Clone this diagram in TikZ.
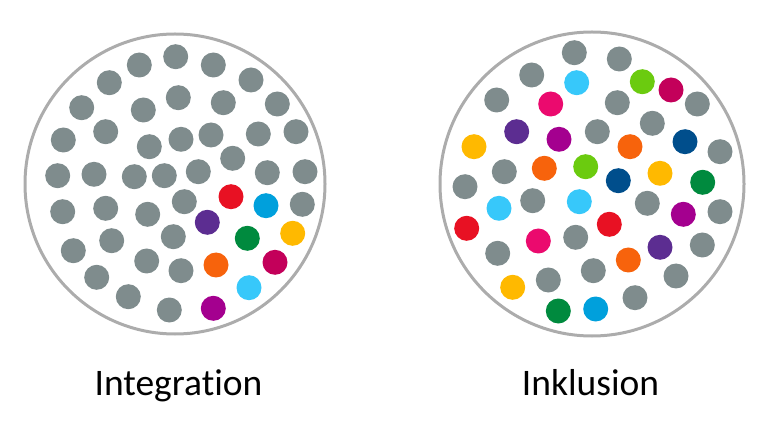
\documentclass[tikz,border=0pt]{standalone}
\usepackage{fontspec}
\setmainfont[Ligatures=NoCommon]{Carlito}
\definecolor{dgray}{RGB}{127,140,141}
\definecolor{ring}{RGB}{172,172,172}
\definecolor{cred}{RGB}{232,17,35}
\definecolor{cblue}{RGB}{0,160,220}
\definecolor{cpurple}{RGB}{92,45,145}
\definecolor{cgreen}{RGB}{0,138,62}
\definecolor{cyellow}{RGB}{255,185,0}
\definecolor{corange}{RGB}{247,99,12}
\definecolor{cmagenta}{RGB}{195,0,90}
\definecolor{clight}{RGB}{55,200,250}
\definecolor{cviolet}{RGB}{164,0,143}
\definecolor{cpink}{RGB}{235,10,110}
\definecolor{clime}{RGB}{107,203,15}
\definecolor{cnavy}{RGB}{0,78,140}
\tikzset{
  dot/.style={circle,fill=#1,draw=none,minimum size=25pt,inner sep=0pt},
  ringstyle/.style={circle,draw=ring,line width=3pt,minimum size=300pt,inner sep=0pt},
  lbl/.style={font=\fontsize{37.5}{42}\selectfont,anchor=base}
}
\begin{document}
\begin{tikzpicture}[x=1pt,y=-1pt]
\useasboundingbox (0,0) rectangle (768,430);
\node[ringstyle] (ringL) at (175,184) {};
\node[ringstyle,minimum size=304pt] (ringR) at (592,184) {};
% left circle dots
\foreach \x/\y/\c [count=\i] in {
175.7/56.7/dgray, 139.3/65/dgray, 213.3/65/dgray, 109.3/82.7/dgray, 251/80/dgray,
178.3/97.7/dgray, 143.3/110/dgray, 223.3/102.7/dgray, 81.7/107.7/dgray, 277.3/104/dgray,
105.7/131.7/dgray, 63.3/140/dgray, 149.3/146.7/dgray, 181/139.3/dgray, 211/135/dgray,
258.3/134/dgray, 296/131.7/dgray, 232.7/158.3/dgray, 57.7/175.7/dgray, 94/174.3/dgray,
134.3/176.7/dgray, 164.3/175.7/dgray, 198.3/171.7/dgray, 267.3/172.7/dgray, 305/171.7/dgray,
62.7/211.7/dgray, 105.7/208.3/dgray, 147.7/214.3/dgray, 184.3/201.7/dgray, 231/196.7/cred,
266/205.7/cblue, 302.3/204.3/dgray, 207.3/222.3/cpurple, 73.3/250.7/dgray, 111.7/240.7/dgray,
173.3/236.7/dgray, 247.3/238.3/cgreen, 292.7/233.3/cyellow, 146.7/261/dgray, 181/270.7/dgray,
216/265/corange, 275/262.3/cmagenta, 96.7/277.3/dgray, 128.3/296.7/dgray, 249/287.7/clight,
169.3/310/dgray, 213.3/308.3/cviolet}
  \node[dot=\c] (L\i) at (\x,\y) {};
% right circle dots
\foreach \x/\y/\c [count=\i] in {
574.3/52.7/dgray, 619.3/59/dgray, 531.7/75/dgray, 576.7/82.7/clight, 642.3/81.7/clime,
671/90/cmagenta, 496.7/100/dgray, 550.7/104/cpink, 617.3/102.7/dgray, 697.3/104/dgray,
652.3/123.3/dgray, 516.7/131.7/cpurple, 559/139.3/cviolet, 597.3/131.7/dgray, 630/146.7/corange,
685/141.7/cnavy, 474/146.7/cyellow, 720/151.7/dgray, 504.3/171.7/dgray, 544.3/168.3/corange,
585.7/166.7/clime, 618.3/180.7/cnavy, 660/173.3/cyellow, 702.7/182.3/cgreen, 465/186.7/dgray,
499/208.3/clight, 532.7/200.7/dgray, 579.3/201.7/clight, 647.3/203.3/dgray, 683.3/214.3/cviolet,
720/211.7/dgray, 466.7/228.3/cred, 609.3/224.3/cred, 538.3/241/cpink, 575.7/237.3/dgray,
660/247.3/cpurple, 702.3/245/dgray, 497.7/253.3/dgray, 628.3/260/corange, 593.3/270.7/dgray,
676/276/dgray, 512.7/287.3/cyellow, 548.3/280/dgray, 635/297.7/dgray, 558.3/311/cgreen,
595.7/309/cblue}
  \node[dot=\c] (R\i) at (\x,\y) {};
\node[lbl] (labL) at (178.5,395) {Integration};
\node[lbl] (labR) at (590.5,395) {Inklusion};
\end{tikzpicture}
\end{document}
